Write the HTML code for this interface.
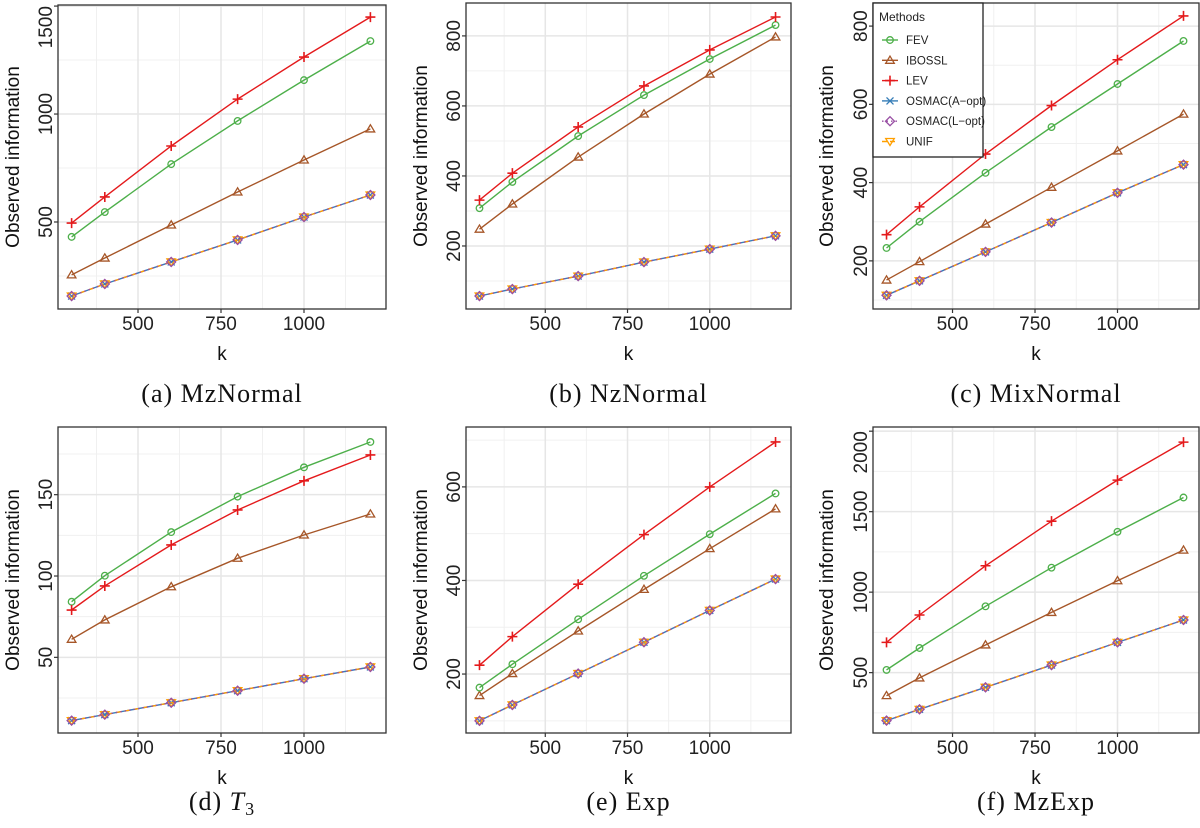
<!DOCTYPE html>
<html><head><meta charset="utf-8"><style>
html,body{margin:0;padding:0;background:#fff;}
svg{display:block;}
text{font-family:"Liberation Sans",Arial,sans-serif;}
.cap{font-family:"Liberation Serif","DejaVu Serif",serif;font-size:26px;fill:#111;letter-spacing:1px;}
</style></head><body>
<svg id="chart" width="1200" height="828" viewBox="0 0 1200 828" xmlns="http://www.w3.org/2000/svg"></svg>
<script>
const kValues = [300, 400, 600, 800, 1000, 1200];
const xTicks = [500, 750, 1000];
const xMinor = [375, 625, 875, 1125];
const methods = ["FEV", "IBOSSL", "LEV", "OSMAC(A-opt)", "OSMAC(L-opt)", "UNIF"];
const panelNames = ["MzNormal", "NzNormal", "MixNormal", "T3", "Exp", "MzExp"];
const panelLetters = ["a", "b", "c", "d", "e", "f"];
const fevA = [431, 546, 768, 968, 1157, 1338];
const ibosslA = [255, 333, 486, 639, 787, 931];
const levA = [495, 616, 852, 1069, 1264, 1449];
const osmacA = [157, 213, 315, 417, 523, 625];
const fevB = [308, 383, 514, 631, 734, 831];
const ibosslB = [248, 320, 454, 577, 691, 797];
const levB = [331, 408, 540, 657, 760, 854];
const osmacB = [57, 77, 114, 154, 191, 229];
const fevC = [233, 300, 425, 542, 652, 762];
const ibosslC = [151, 198, 294, 388, 481, 575];
const levC = [267, 338, 473, 597, 714, 826];
const osmacC = [112, 149, 223, 298, 374, 446];
const fevD = [84.2, 100.2, 127, 148.8, 166.8, 182.4];
const ibosslD = [61.1, 73, 93.4, 110.9, 125.2, 138.1];
const levD = [79.1, 93.9, 119.1, 140.6, 158.5, 174.4];
const osmacD = [11.1, 14.8, 22.1, 29.5, 36.9, 44.1];
const fevE = [171, 221, 317, 410, 499, 586];
const ibosslE = [154, 201, 292, 381, 468, 553];
const levE = [219, 280, 392, 498, 600, 696];
const osmacE = [100, 134, 201, 268, 336, 403];
const fevF = [517, 653, 912, 1152, 1375, 1588];
const ibosslF = [357, 467, 672, 874, 1071, 1261];
const levF = [688, 858, 1164, 1441, 1696, 1932];
const osmacF = [202, 272, 409, 547, 688, 827];
const yTicksA = [500, 1000, 1500];
const yTicksB = [200, 400, 600, 800];
const yTicksC = [200, 400, 600, 800];
const yTicksD = [50, 100, 150];
const yTicksE = [200, 400, 600];
const yTicksF = [500, 1000, 1500, 2000];
const yDomains = [[97, 1505], [20, 894], [77, 859], [3.5, 191.6], [74, 728], [125, 2026]];
const xDomain = [259, 1247];

const colors = {"FEV":"#4DAF4A","IBOSSL":"#A65628","LEV":"#E41A1C","OSMAC(A-opt)":"#377EB8","OSMAC(L-opt)":"#984EA3","UNIF":"#FF9F00"};
const NS = "http://www.w3.org/2000/svg";
const svg = document.getElementById("chart");
function mk(tag, attrs, parent) {
  const e = document.createElementNS(NS, tag);
  for (const k in attrs) e.setAttribute(k, attrs[k]);
  (parent || svg).appendChild(e);
  return e;
}
const boxes = [
  {x0:58,x1:386,y0:5,y1:309,titleX:12,capY:402},
  {x0:466,x1:791,y0:3,y1:309,titleX:420,capY:402},
  {x0:873,x1:1199,y0:3,y1:309,titleX:826,capY:402},
  {x0:58,x1:386,y0:427,y1:733,titleX:12,capY:810},
  {x0:466,x1:791,y0:427,y1:733,titleX:420,capY:810},
  {x0:873,x1:1199,y0:427,y1:733,titleX:826,capY:810}
];
const panelSeries = [
  [fevA, ibosslA, levA, osmacA], [fevB, ibosslB, levB, osmacB], [fevC, ibosslC, levC, osmacC],
  [fevD, ibosslD, levD, osmacD], [fevE, ibosslE, levE, osmacE], [fevF, ibosslF, levF, osmacF]
];
const panelTicks = [yTicksA, yTicksB, yTicksC, yTicksD, yTicksE, yTicksF];

function marker(g, type, cx, cy) {
  const c = colors[type];
  let m;
  if (type === "FEV") m = mk("circle", {cx:cx, cy:cy, r:3.3, fill:"none", stroke:c, "stroke-width":1.3}, g);
  else if (type === "IBOSSL") m = mk("polygon", {points:`${cx},${cy-4.2} ${cx-4.3},${cy+3} ${cx+4.3},${cy+3}`, fill:"none", stroke:c, "stroke-width":1.3}, g);
  else if (type === "LEV") m = mk("path", {d:`M${cx-5},${cy}H${cx+5}M${cx},${cy-5}V${cy+5}`, stroke:c, "stroke-width":1.6}, g);
  else if (type === "OSMAC(A-opt)") m = mk("path", {d:`M${cx-3.5},${cy-3.5}L${cx+3.5},${cy+3.5}M${cx-3.5},${cy+3.5}L${cx+3.5},${cy-3.5}`, stroke:c, "stroke-width":1.3}, g);
  else if (type === "OSMAC(L-opt)") m = mk("polygon", {points:`${cx},${cy-4.5} ${cx+4.5},${cy} ${cx},${cy+4.5} ${cx-4.5},${cy}`, fill:"none", stroke:c, "stroke-width":1.3}, g);
  else m = mk("polygon", {points:`${cx},${cy+4} ${cx-4.3},${cy-3} ${cx+4.3},${cy-3}`, fill:"none", stroke:c, "stroke-width":1.3}, g);
  return m;
}

boxes.forEach((b, p) => {
  const g = mk("g", {});
  
  
  const yd = yDomains[p];
  const sx = v => b.x0 + (v - xDomain[0]) / (xDomain[1] - xDomain[0]) * (b.x1 - b.x0);
  const sy = v => b.y1 - (v - yd[0]) / (yd[1] - yd[0]) * (b.y1 - b.y0);
  const ticks = panelTicks[p];
  const step = ticks[1] - ticks[0];
  const grid = mk("g", {}, g);
  
  
  for (let v = ticks[0] - step * 1.5; v < yd[1]; v += step) {
    if (v > yd[0]) mk("line", {x1:b.x0, x2:b.x1, y1:sy(v), y2:sy(v), stroke:"#f0f0f0", "stroke-width":1}, grid);
  }
  xMinor.forEach(v => mk("line", {x1:sx(v), x2:sx(v), y1:b.y0, y2:b.y1, stroke:"#f0f0f0", "stroke-width":1}, grid));
  ticks.forEach(v => mk("line", {x1:b.x0, x2:b.x1, y1:sy(v), y2:sy(v), stroke:"#e6e6e6", "stroke-width":1.5}, grid));
  xTicks.forEach(v => mk("line", {x1:sx(v), x2:sx(v), y1:b.y0, y2:b.y1, stroke:"#e6e6e6", "stroke-width":1.5}, grid));
  const series = panelSeries[p];
  const lines = [
    ["OSMAC(A-opt)", series[3], "none"],
    ["UNIF", series[3], "5,4"],
    ["OSMAC(L-opt)", series[3], "1.5,3"],
    ["IBOSSL", series[1], "none"],
    ["FEV", series[0], "none"],
    ["LEV", series[2], "none"]
  ];
  lines.forEach(([name, vals, dash]) => {
    const sg = mk("g", {}, g);
    
    
    const pts = kValues.map((k, i) => sx(k).toFixed(1) + "," + sy(vals[i]).toFixed(1)).join(" ");
    mk("polyline", {points:pts, fill:"none", stroke:colors[name], "stroke-width":1.4, "stroke-dasharray":dash}, sg);
    kValues.forEach((k, i) => {
      const m = marker(sg, name, sx(k), sy(vals[i]));
      
      
    });
  });
  const border = mk("rect", {x:b.x0, y:b.y0, width:b.x1 - b.x0, height:b.y1 - b.y0, fill:"none", stroke:"#333", "stroke-width":1.3}, g);
  
  
  const tx = b.x0 - 6;
  ticks.forEach(v => {
    const yy = sy(v);
    mk("line", {x1:b.x0 - 4, x2:b.x0, y1:yy, y2:yy, stroke:"#333", "stroke-width":1.2}, g);
    const half = String(v).length * 5.3;
    let anchor = "middle";
    if (yy - half < b.y0) anchor = "end";
    const t = mk("text", {x:tx, y:yy, "font-size":19, fill:"#222", "text-anchor":anchor, transform:`rotate(-90 ${tx} ${yy})`}, g);
    t.textContent = v;
    
    
  });
  xTicks.forEach(v => {
    mk("line", {x1:sx(v), x2:sx(v), y1:b.y1, y2:b.y1 + 4, stroke:"#333", "stroke-width":1.2}, g);
    const t = mk("text", {x:sx(v), y:b.y1 + 21, "font-size":19, fill:"#222", "text-anchor":"middle"}, g);
    t.textContent = v;
    
    
  });
  const xt = mk("text", {x:(b.x0 + b.x1) / 2, y:b.y1 + 51, "font-size":19, fill:"#111", "text-anchor":"middle"}, g);
  xt.textContent = "k";
  
  
  const yc = (b.y0 + b.y1) / 2;
  const yt = mk("text", {x:b.titleX, y:yc, "font-size":19, fill:"#111", "text-anchor":"middle", transform:`rotate(-90 ${b.titleX} ${yc})`, dy:"7"}, g);
  yt.textContent = "Observed information";
  
  
  const cap = mk("text", {x:(b.x0 + b.x1) / 2, y:b.capY, class:"cap", "text-anchor":"middle"}, g);
  if (panelNames[p] === "T3") {
    cap.textContent = "(d)  ";
    const ts = mk("tspan", {"font-style":"italic"}, cap); ts.textContent = "T";
    const sub = mk("tspan", {"font-size":18, dy:5}, cap); sub.textContent = "3";
  } else {
    cap.textContent = "(" + panelLetters[p] + ")  " + panelNames[p];
  }
  
  
});

const lg = mk("g", {});


mk("rect", {x:873, y:3, width:110, height:154, fill:"#fff", stroke:"#222", "stroke-width":1.3}, lg);
const lt = mk("text", {x:879, y:21, "font-size":12, fill:"#222"}, lg);
lt.textContent = "Methods";


const dashes = {"FEV":"none","IBOSSL":"none","LEV":"none","OSMAC(A-opt)":"none","OSMAC(L-opt)":"1.5,3","UNIF":"5,3"};
methods.forEach((m, i) => {
  const y = 40 + i * 20.3;
  const e = mk("g", {}, lg);
  
  
  mk("line", {x1:882, x2:898, y1:y, y2:y, stroke:colors[m], "stroke-width":1.4, "stroke-dasharray":dashes[m]}, e);
  marker(e, m, 890, y);
  const t = mk("text", {x:906, y:y + 4, "font-size":11.5, fill:"#222"}, e);
  t.textContent = m.replace("-", "\u2212");
});
</script>
</body></html>
